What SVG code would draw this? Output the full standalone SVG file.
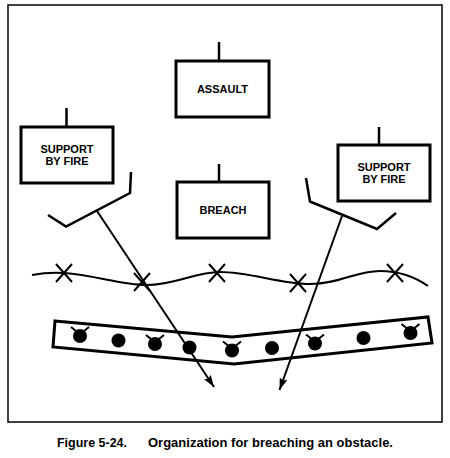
<svg xmlns="http://www.w3.org/2000/svg" width="450" height="458" viewBox="0 0 450 458">
  <style>
    .box { fill: #fff; stroke: #000; stroke-width: 3; }
    .stem { stroke: #000; stroke-width: 2.5; fill: none; }
    .lbl { font-family: "Liberation Sans", Arial, sans-serif; font-weight: bold; font-size: 11px; text-anchor: middle; fill: #000; }
    .line { stroke: #000; stroke-width: 2.5; fill: none; stroke-linejoin: miter; }
    .arrow { stroke: #000; stroke-width: 2; fill: none; }
    .wire { stroke: #000; stroke-width: 2; fill: none; }
    .x { stroke: #000; stroke-width: 2; }
    .dot { fill: #000; }
    .horn { stroke: #000; stroke-width: 2; }
    .cap { font-family: "Liberation Sans", Arial, sans-serif; font-weight: bold; font-size: 12.5px; fill: #000; }
  </style>
  <defs>
    <marker id="ah" viewBox="0 0 12 8" refX="12" refY="4" markerWidth="12" markerHeight="8" markerUnits="userSpaceOnUse" orient="auto">
      <path d="M0,0 L12,4 L0,8 L2,4 Z" fill="#000"/>
    </marker>
    <g id="horns">
      <line class="horn" x1="-4" y1="-5" x2="-9" y2="-9"/>
      <line class="horn" x1="4" y1="-5" x2="9" y2="-9"/>
    </g>
  </defs>
  <rect x="0" y="0" width="450" height="458" fill="#fff"/>
  <rect id="frame" x="8" y="5" width="434" height="417" fill="none" stroke="#000" stroke-width="1.5"/>

  <g id="assault">
    <line class="stem" x1="219" y1="42" x2="219" y2="61"/>
    <rect class="box" x="176" y="61" width="93" height="56"/>
    <text class="lbl" x="222.5" y="93">ASSAULT</text>
  </g>
  <g id="sbf-left">
    <line class="stem" x1="66.5" y1="108" x2="66.5" y2="127"/>
    <rect class="box" x="21" y="127" width="92" height="56"/>
    <text class="lbl" x="67" y="153">SUPPORT</text>
    <text class="lbl" x="67" y="165">BY FIRE</text>
  </g>
  <g id="sbf-right">
    <line class="stem" x1="379" y1="127" x2="379" y2="145"/>
    <rect class="box" x="338" y="145" width="92" height="56"/>
    <text class="lbl" x="384" y="171">SUPPORT</text>
    <text class="lbl" x="384" y="183">BY FIRE</text>
  </g>
  <g id="breach">
    <line class="stem" x1="219" y1="164" x2="219" y2="182"/>
    <rect class="box" x="177" y="182" width="92" height="56"/>
    <text class="lbl" x="223" y="214">BREACH</text>
  </g>

  <g id="positions">
    <polyline class="line" points="48,215 66,226.5 130,193 131,172"/>
    <polyline class="line" points="306,178 310,201.5 377,229 396,213"/>
  </g>

  <g id="wire">
    <path class="wire" d="M32,275 Q48,272 64,273 C95,275 120,285 147,285 C175,285 195,272 220,272 C250,272 280,284 310,284 C340,284 355,271 380,271 C400,271 415,277 428,286"/>
    <g class="x">
      <path d="M56,264 L72,282 M72,264 L56,282"/>
      <path d="M134,273 L150,291 M150,273 L134,291"/>
      <path d="M209,264 L225,282 M225,264 L209,282"/>
      <path d="M290,274 L306,292 M306,274 L290,292"/>
      <path d="M387,264 L403,282 M403,264 L387,282"/>
    </g>
  </g>

  <g id="obstacle">
    <polygon points="55,321 232,337 428,317 432,343 234,364 53,347" fill="none" stroke="#000" stroke-width="3" stroke-linejoin="miter"/>
    <circle class="dot" cx="80" cy="336" r="7"/><use href="#horns" x="80" y="336"/>
    <circle class="dot" cx="118.5" cy="340.5" r="7"/>
    <circle class="dot" cx="155" cy="344" r="7"/><use href="#horns" x="155" y="344"/>
    <circle class="dot" cx="189.5" cy="347.5" r="7"/>
    <circle class="dot" cx="232" cy="350.5" r="7"/><use href="#horns" x="232" y="350.5"/>
    <circle class="dot" cx="272" cy="348" r="7"/>
    <circle class="dot" cx="315" cy="343.5" r="7"/><use href="#horns" x="315" y="343.5"/>
    <circle class="dot" cx="363.5" cy="338" r="7"/>
    <circle class="dot" cx="410.5" cy="333" r="7"/><use href="#horns" x="410.5" y="333"/>
  </g>

  <g id="connectors">
    <line class="arrow" x1="97" y1="211" x2="214" y2="387" marker-end="url(#ah)"/>
    <line class="arrow" x1="342" y1="216" x2="279.5" y2="390" marker-end="url(#ah)"/>
  </g>

  <g id="caption">
    <text class="cap" x="57" y="447" textLength="70" lengthAdjust="spacingAndGlyphs">Figure 5-24.</text>
    <text class="cap" x="148" y="447" textLength="245" lengthAdjust="spacingAndGlyphs">Organization for breaching an obstacle.</text>
  </g>
</svg>
